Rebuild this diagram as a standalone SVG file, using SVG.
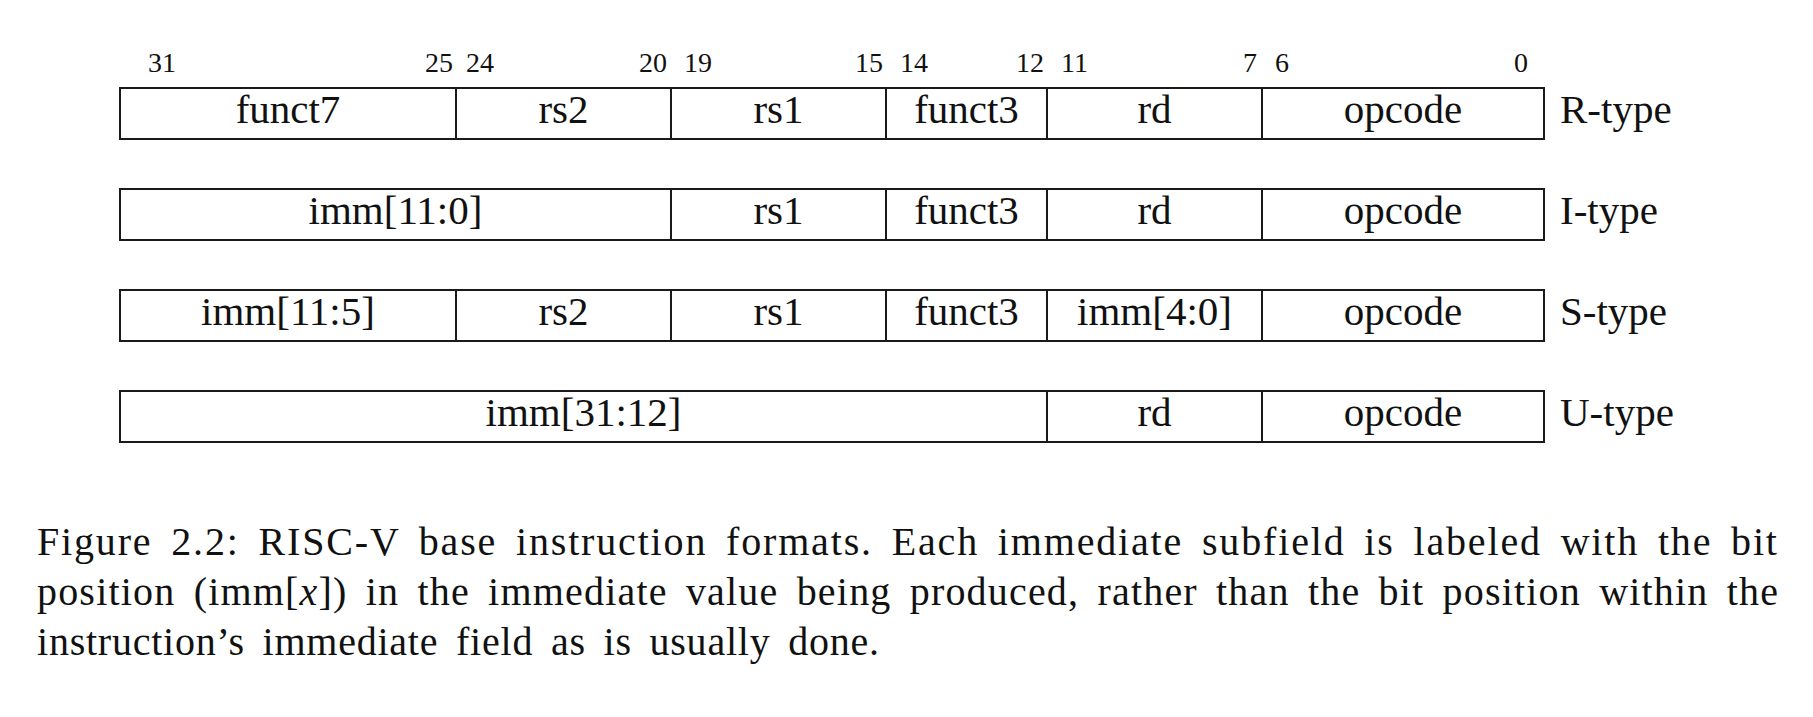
<svg xmlns="http://www.w3.org/2000/svg" width="1813" height="717" viewBox="0 0 1813 717">
<style>
  .cell { fill: #ffffff; stroke: #1a1a1a; stroke-width: 2; }
  .lbl { font-family: "Liberation Serif", "DejaVu Serif", serif; font-size: 41px; fill: #111; text-anchor: middle; }
  .typ { font-family: "Liberation Serif", "DejaVu Serif", serif; font-size: 41px; fill: #111; }
  .bit { font-family: "Liberation Serif", "DejaVu Serif", serif; font-size: 28px; fill: #111; }
  .bitr { text-anchor: end; }
  .cap { font-family: "Liberation Serif", "DejaVu Serif", serif; font-size: 40px; fill: #111; word-spacing: 7px; }
</style>
<rect x="0" y="0" width="1813" height="717" fill="#ffffff"/>

<g id="bit-numbers">
  <text class="bit" x="148" y="72">31</text>
  <text class="bit bitr" x="453" y="72">25</text>
  <text class="bit" x="466" y="72">24</text>
  <text class="bit bitr" x="667" y="72">20</text>
  <text class="bit" x="684" y="72">19</text>
  <text class="bit bitr" x="883" y="72">15</text>
  <text class="bit" x="900" y="72">14</text>
  <text class="bit bitr" x="1044" y="72">12</text>
  <text class="bit" x="1061" y="72">11</text>
  <text class="bit bitr" x="1257" y="72">7</text>
  <text class="bit" x="1275" y="72">6</text>
  <text class="bit bitr" x="1528" y="72">0</text>
</g>

<g id="r-type">
  <rect class="cell" x="120" y="88" width="336" height="51"/>
  <rect class="cell" x="456" y="88" width="215" height="51"/>
  <rect class="cell" x="671" y="88" width="215" height="51"/>
  <rect class="cell" x="886" y="88" width="161" height="51"/>
  <rect class="cell" x="1047" y="88" width="215" height="51"/>
  <rect class="cell" x="1262" y="88" width="282" height="51"/>
  <text class="lbl" x="288" y="123">funct7</text>
  <text class="lbl" x="563.5" y="123">rs2</text>
  <text class="lbl" x="778.5" y="123">rs1</text>
  <text class="lbl" x="966.5" y="123">funct3</text>
  <text class="lbl" x="1154.5" y="123">rd</text>
  <text class="lbl" x="1403" y="123">opcode</text>
  <text class="typ" x="1560" y="123">R-type</text>
</g>

<g id="i-type">
  <rect class="cell" x="120" y="189" width="551" height="51"/>
  <rect class="cell" x="671" y="189" width="215" height="51"/>
  <rect class="cell" x="886" y="189" width="161" height="51"/>
  <rect class="cell" x="1047" y="189" width="215" height="51"/>
  <rect class="cell" x="1262" y="189" width="282" height="51"/>
  <text class="lbl" x="395.5" y="224">imm[11:0]</text>
  <text class="lbl" x="778.5" y="224">rs1</text>
  <text class="lbl" x="966.5" y="224">funct3</text>
  <text class="lbl" x="1154.5" y="224">rd</text>
  <text class="lbl" x="1403" y="224">opcode</text>
  <text class="typ" x="1560" y="224">I-type</text>
</g>

<g id="s-type">
  <rect class="cell" x="120" y="290" width="336" height="51"/>
  <rect class="cell" x="456" y="290" width="215" height="51"/>
  <rect class="cell" x="671" y="290" width="215" height="51"/>
  <rect class="cell" x="886" y="290" width="161" height="51"/>
  <rect class="cell" x="1047" y="290" width="215" height="51"/>
  <rect class="cell" x="1262" y="290" width="282" height="51"/>
  <text class="lbl" x="288" y="325">imm[11:5]</text>
  <text class="lbl" x="563.5" y="325">rs2</text>
  <text class="lbl" x="778.5" y="325">rs1</text>
  <text class="lbl" x="966.5" y="325">funct3</text>
  <text class="lbl" x="1154.5" y="325">imm[4:0]</text>
  <text class="lbl" x="1403" y="325">opcode</text>
  <text class="typ" x="1560" y="325">S-type</text>
</g>

<g id="u-type">
  <rect class="cell" x="120" y="391" width="927" height="51"/>
  <rect class="cell" x="1047" y="391" width="215" height="51"/>
  <rect class="cell" x="1262" y="391" width="282" height="51"/>
  <text class="lbl" x="583.5" y="426">imm[31:12]</text>
  <text class="lbl" x="1154.5" y="426">rd</text>
  <text class="lbl" x="1403" y="426">opcode</text>
  <text class="typ" x="1560" y="426">U-type</text>
</g>

<g id="caption">
  <text class="cap" x="37" y="555" textLength="1740" lengthAdjust="spacing">Figure 2.2:  RISC-V base instruction formats.  Each immediate subfield is labeled with the bit</text>
  <text class="cap" x="37" y="605" textLength="1741" lengthAdjust="spacing">position (imm[<tspan font-style="italic">x</tspan>]) in the immediate value being produced, rather than the bit position within the</text>
  <text class="cap" x="37" y="655" textLength="842" lengthAdjust="spacing">instruction’s immediate field as is usually done.</text>
</g>
</svg>
